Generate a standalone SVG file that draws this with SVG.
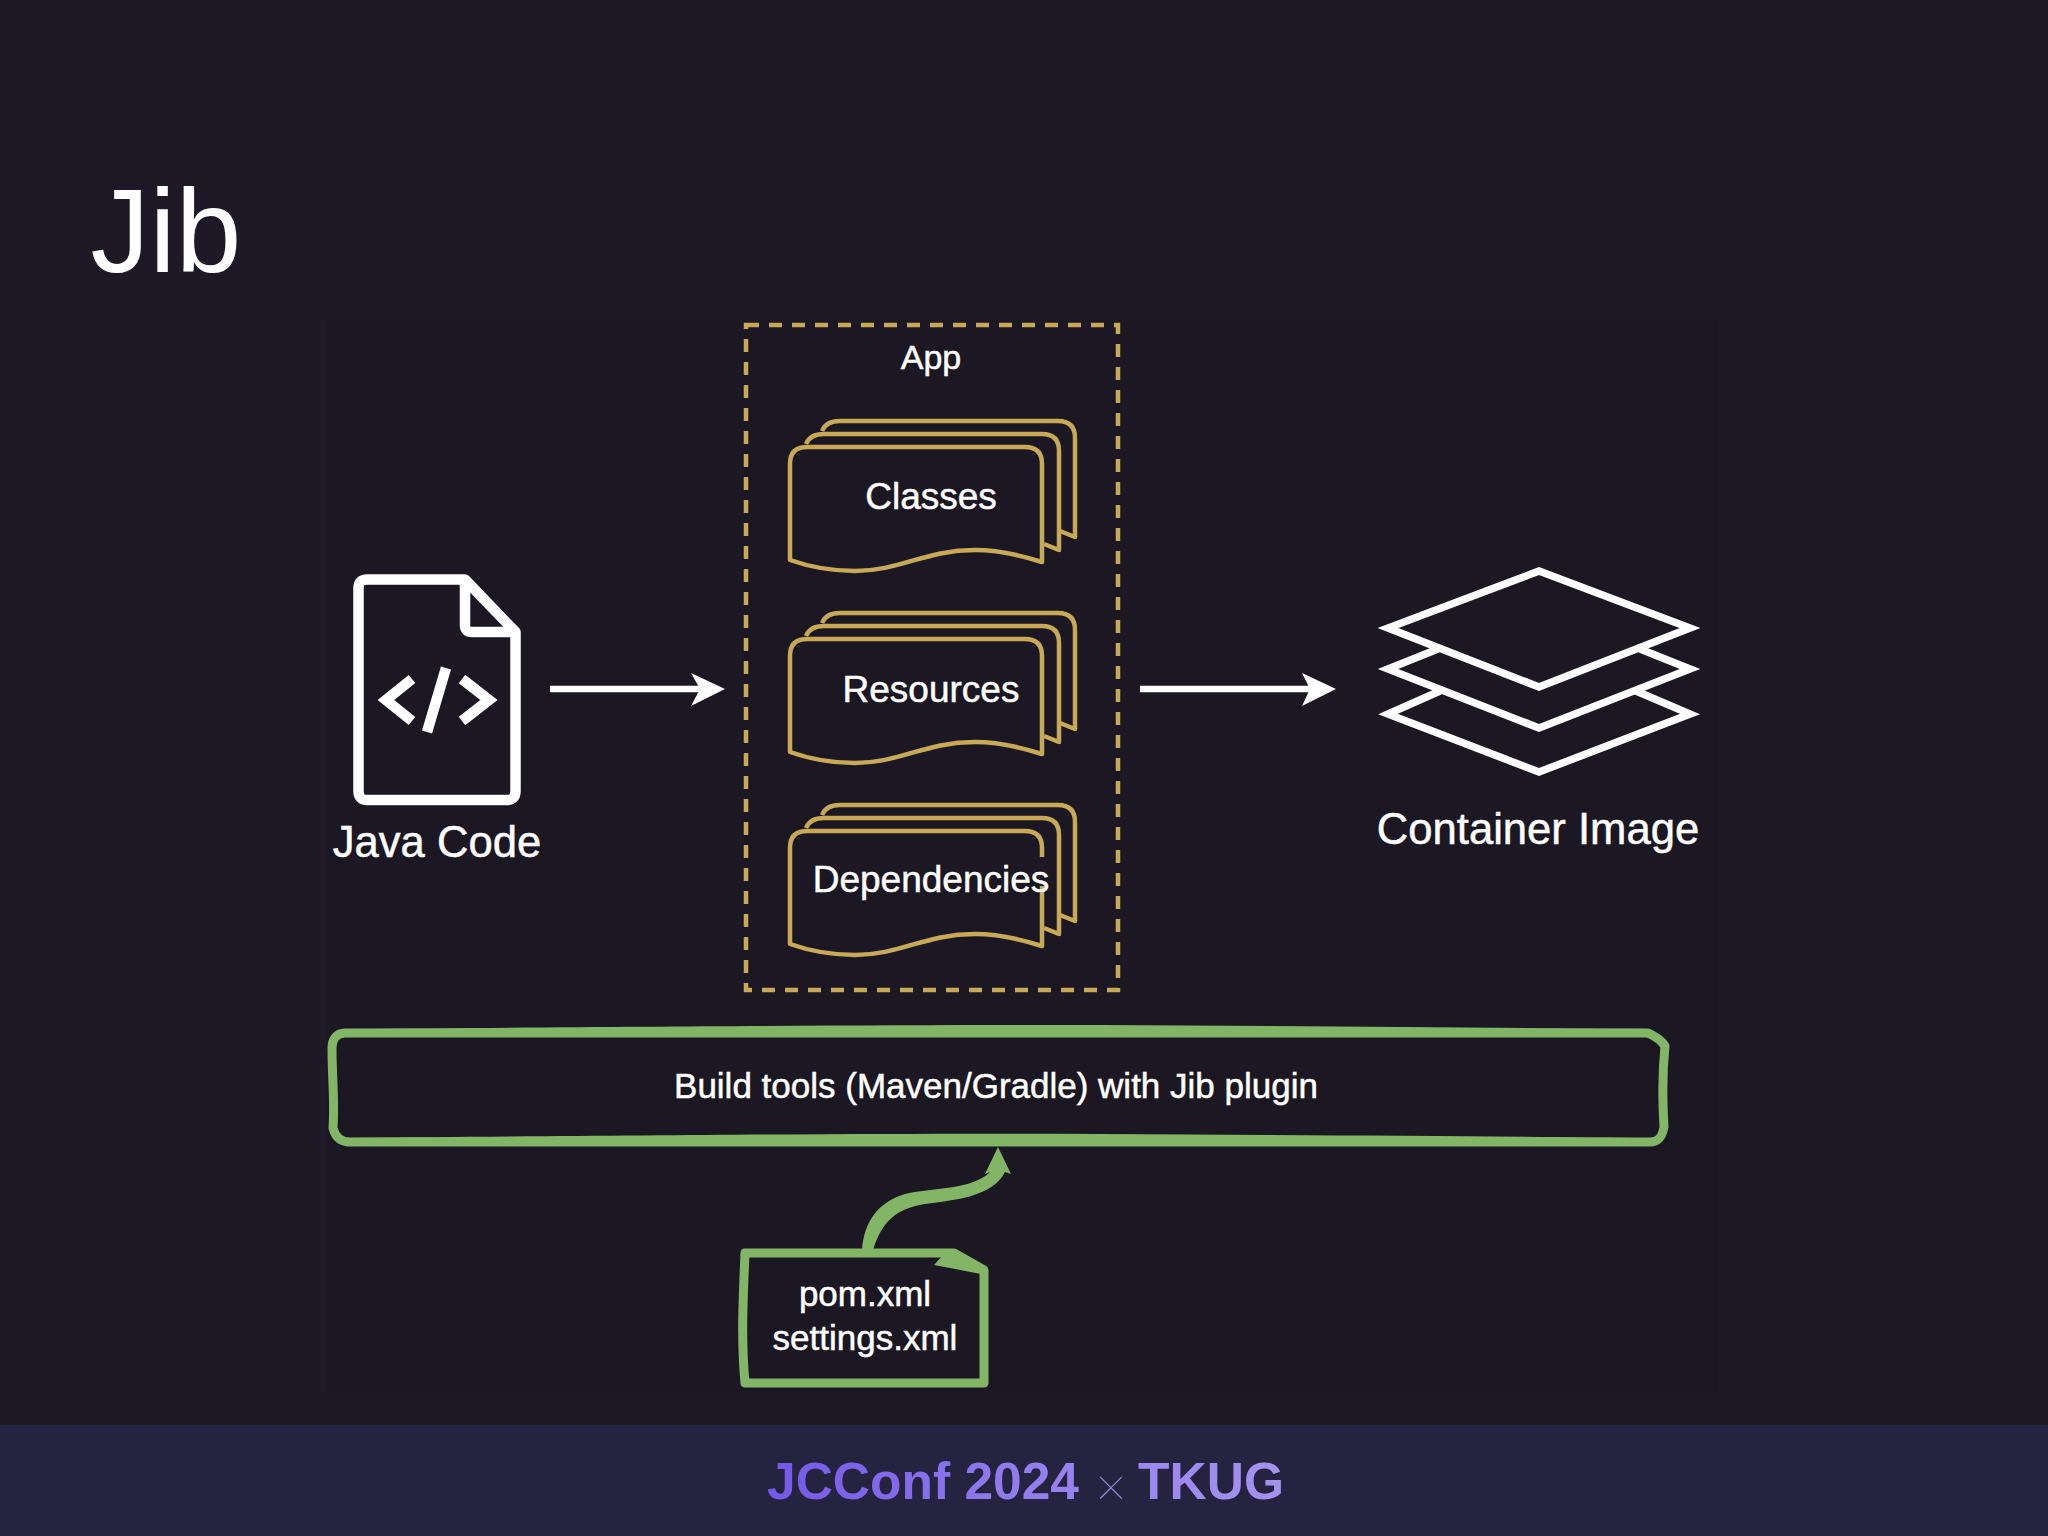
<svg xmlns="http://www.w3.org/2000/svg" width="2048" height="1536" viewBox="0 0 2048 1536">
<style>
text{font-family:"Liberation Sans",Arial,sans-serif;fill:#fff;text-anchor:middle;stroke:#fff;stroke-width:.5}
.gold{fill:none;stroke:#c8a957;stroke-width:4.5;stroke-linejoin:round}
.white{fill:none;stroke:#fff;stroke-width:10.5;stroke-linejoin:round}
.layer{fill:none;stroke:#fff;stroke-width:7.5;stroke-linejoin:miter}
.conn{fill:none;stroke:#fff;stroke-width:6.7}
.head{fill:#fff;stroke:none}
.green{fill:none;stroke:#82b666;stroke-width:9;stroke-linejoin:round;stroke-linecap:round}
.gfill{fill:#82b666;stroke:none}
.l43{font-size:43.6px}.l37{font-size:37px}.l35{font-size:35px}
</style>
<defs>
<linearGradient id="brand" gradientUnits="userSpaceOnUse" x1="767" y1="0" x2="1282" y2="0">
<stop offset="0" stop-color="#7457e8"/><stop offset="0.55" stop-color="#9680ee"/><stop offset="1" stop-color="#a592ee"/>
</linearGradient>
<g id="backs">
<path class="gold" d="M806,444 Q810,434 824,434 H1042 Q1059,434 1059,451 V550 L1044,544"/>
<path class="gold" d="M822,431 Q826,421 840,421 H1058 Q1075,421 1075,438 V537 L1060,531"/>
</g>
</defs>
<rect width="2048" height="1536" fill="#1d1926"/>
<rect x="327" y="320" width="1392" height="1072" fill="#1b1723"/>
<rect y="1425" width="2048" height="111" fill="#252340"/>
<text x="166" y="272" style="font-size:118px;stroke:none">Jib</text>

<g id="java-code">
<path class="white" d="M465,579.5 H367 Q358.5,579.5 358.5,588 V791 Q358.5,800 367,800 H507 Q515.5,800 515.5,791 V632 L465,579.5 V625 Q465,632 472,632 H515"/>
<path class="white" d="M412,679 L386,700 L412,721 M462,679 L489,700 L462,721 M446,668 L427,732" style="stroke-linejoin:miter"/>
<text class="l43" x="437" y="857">Java Code</text>
</g>

<g id="app">
<rect x="746" y="325" width="372" height="665" fill="none" stroke="#c8a957" stroke-width="4.5" stroke-dasharray="13 10"/>
<text x="931" y="369" style="font-size:34px">App</text>
</g>
<g id="classes">
<use href="#backs"/>
<path class="gold" d="M790,560 V464 Q790,447 807,447 H1025 Q1042,447 1042,464 V562 C1020,555 1000,550 975,550 C925,550 900,571 855,571 C830,571 810,567 790,560 Z"/>
<text class="l37" x="931" y="509">Classes</text>
</g>
<g id="resources">
<use href="#backs" y="192"/>
<path class="gold" transform="translate(0,192)" d="M790,560 V464 Q790,447 807,447 H1025 Q1042,447 1042,464 V562 C1020,555 1000,550 975,550 C925,550 900,571 855,571 C830,571 810,567 790,560 Z"/>
<text class="l37" x="931" y="702">Resources</text>
</g>
<g id="dependencies">
<use href="#backs" y="384"/>
<path class="gold" transform="translate(0,384)" d="M1042,473 V464 Q1042,447 1025,447 H807 Q790,447 790,464 V560 C810,567 830,571 855,571 C900,571 925,550 975,550 C1000,550 1020,555 1042,562 V502"/>
<text class="l37" x="931" y="892">Dependencies</text>
</g>

<g id="container-image">
<path class="layer" d="M1539,571 L1690,628 L1539,687 L1388,628 Z"/>
<path class="layer" d="M1438,649 L1388,669 L1539,728 L1690,669 L1640,649"/>
<path class="layer" d="M1440,691 L1388,714 L1539,772 L1690,714 L1636,691"/>
<text class="l43" x="1538" y="844">Container Image</text>
</g>

<g id="build-tools">
<path class="green" d="M345,1033 C336,1033 332,1040 332,1048 C332,1080 335,1100 333,1128 C335,1136 340,1142 350,1142 H1650 C1658,1142 1662,1138 1664,1127 C1662,1095 1662,1075 1665,1046 C1660,1038 1650,1034 1648,1033 Z"/>
<path class="gfill" d="M345,1029 C700,1026 900,1025 1100,1025 C1300,1026 1500,1028 1650,1029 V1037 C1300,1037 700,1037 345,1037 Z"/>
<path class="gfill" d="M345,1138 C700,1135 900,1133 1100,1134 C1300,1135 1500,1136 1650,1138 V1146 H345 Z"/>
<text class="l35" x="996" y="1098">Build tools (Maven/Gradle) with Jib plugin</text>
</g>

<g id="pom">
<path class="green" d="M745,1253 C743,1300 741,1340 745,1383 H984 L984,1270 L954,1253 Z"/>
<path class="gfill" d="M954,1249 L987,1268 L986,1275 L950,1268 L934,1265 L943,1255 Z"/>
<text class="l35" x="865" y="1306">pom.xml</text>
<text class="l35" x="865" y="1350">settings.xml</text>
</g>

<g id="connectors">
<path class="conn" d="M550,689 H700"/>
<path class="head" d="M725,689 L691,673 L700,689 L691,706 Z"/>
<path class="conn" d="M1140,689 H1310"/>
<path class="head" d="M1336,689 L1302,673 L1310,689 L1302,706 Z"/>
<path class="gfill" d="M862,1250 C864,1222 878,1202 905,1194 C935,1187 972,1190 990,1172 L985,1174 L998,1147 L1011,1174 L1005,1172 C992,1197 955,1200 925,1204 C895,1209 882,1222 873,1250 Z"/>
</g>

<g id="footer">
<text x="923" y="1499" style="font-size:51.5px;font-weight:700;fill:url(#brand);stroke:none">JCConf 2024</text>
<text x="1111" y="1503" style="font-size:54px;font-family:Inter,'Liberation Sans',sans-serif;font-weight:100;fill:#9185d6;stroke:none">×</text>
<text x="1211" y="1499" style="font-size:51.5px;font-weight:700;fill:url(#brand);stroke:none">TKUG</text>
</g>
</svg>
